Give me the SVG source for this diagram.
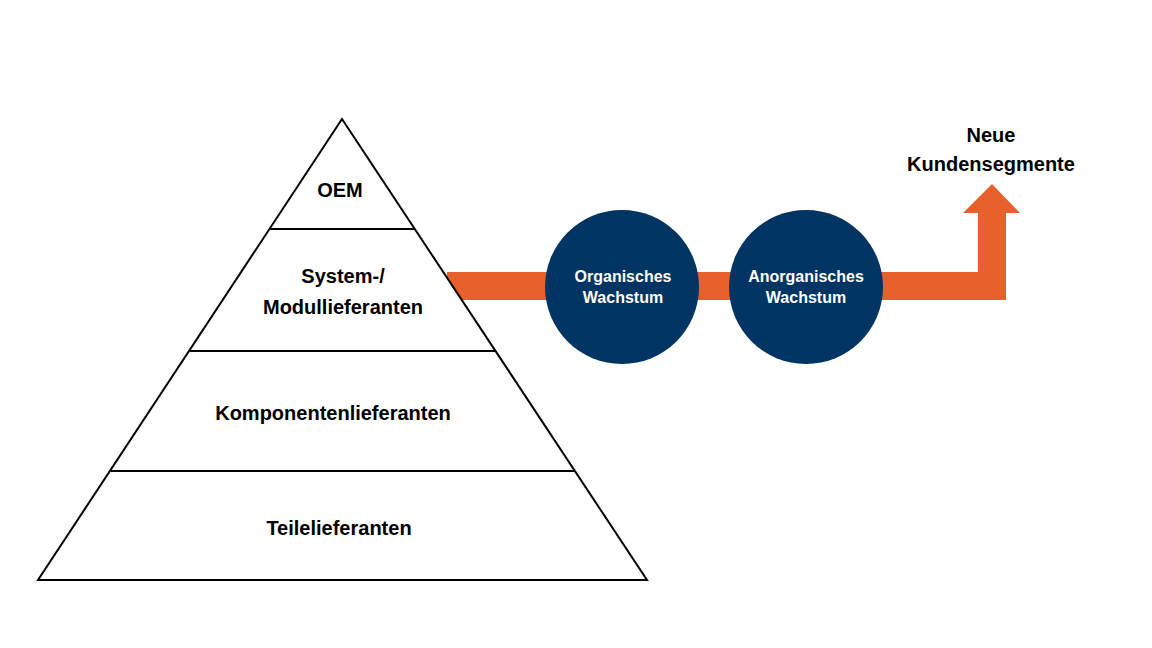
<svg xmlns="http://www.w3.org/2000/svg" width="1152" height="648" viewBox="0 0 1152 648">
<style>
.t{font-family:"Liberation Sans",Arial,sans-serif;font-weight:bold;font-size:20px;fill:#000;text-anchor:middle}
.w{font-family:"Liberation Sans",Arial,sans-serif;font-weight:bold;font-size:16px;fill:#fff;text-anchor:middle}
.c{fill:#003462}
</style>
<rect width="1152" height="648" fill="#fff"/>
<g id="connectors">
<path d="M447,272 H978 V213 H963 L992,184 L1020,213 H1006 V300 H447 Z" fill="#e8612c"/>
</g>
<g id="pyramid" fill="none" stroke="#000" stroke-width="2">
<polygon points="342,119 38,580 647,580" fill="#fff"/>
<line x1="270" y1="229" x2="415" y2="229"/>
<line x1="190" y1="351" x2="496" y2="351"/>
<line x1="111" y1="471" x2="575" y2="471"/>
</g>
<g id="oem"><text class="t" x="340" y="197">OEM</text></g>
<g id="system"><text class="t" x="343" y="283">System-/</text><text class="t" x="343" y="314">Modullieferanten</text></g>
<g id="komp"><text class="t" x="333" y="420">Komponentenlieferanten</text></g>
<g id="teile"><text class="t" x="339" y="535">Teilelieferanten</text></g>
<g id="organisch"><circle class="c" cx="622" cy="287" r="77"/><text class="w" x="623" y="282">Organisches</text><text class="w" x="623" y="303">Wachstum</text></g>
<g id="anorganisch"><circle class="c" cx="806" cy="287" r="77"/><text class="w" x="806" y="282">Anorganisches</text><text class="w" x="806" y="303">Wachstum</text></g>
<g id="neue"><text class="t" x="991" y="142">Neue</text><text class="t" x="991" y="171">Kundensegmente</text></g>
</svg>
